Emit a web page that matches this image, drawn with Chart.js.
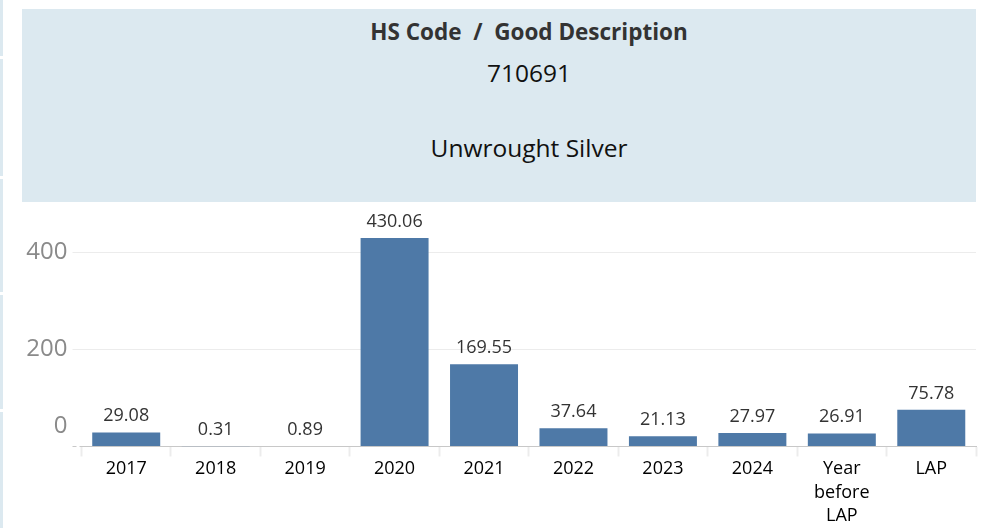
<!DOCTYPE html>
<html>
<head>
<meta charset="utf-8">
<script src="https://cdn.jsdelivr.net/npm/chart.js@4"></script>
<style>
  body { margin: 0; background: #fff; font-family: "Open Sans", sans-serif; }
  #page { position: relative; width: 986px; height: 528px; overflow: hidden; }
  .strip { position: absolute; left: 0; width: 3px; background: #dce9f0; }
  #header { position: absolute; left: 22px; top: 9px; width: 954px; height: 193px; background: #dce9f0; }
  .htext { position: absolute; left: 529px; transform: translate(-50%, -50%); white-space: nowrap; font-size: 24.5px; }
  #chart-box { position: absolute; left: 0; top: 200px; width: 986px; height: 328px; }
</style>
</head>
<body>
<div id="page">
  <div class="strip" style="top:0;height:56px"></div>
  <div class="strip" style="top:59px;height:117px"></div>
  <div class="strip" style="top:179px;height:113px"></div>
  <div class="strip" style="top:295px;height:114px"></div>
  <div class="strip" style="top:412px;height:116px"></div>
  <div id="header"></div>
  <div class="htext" style="top:31px;font-weight:700;color:#333;font-size:22.5px">HS Code &nbsp;/ &nbsp;Good Description</div>
  <div class="htext" style="top:72px;color:#111">710691</div>
  <div class="htext" style="top:147px;color:#111">Unwrought Silver</div>
  <div id="chart-box"><canvas id="barChart"></canvas></div>
</div>
<script>
// Chart data
const categories = ["2017", "2018", "2019", "2020", "2021", "2022", "2023", "2024", ["Year", "before", "LAP"], "LAP"];
const values = [29.08, 0.31, 0.89, 430.06, 169.55, 37.64, 21.13, 27.97, 26.91, 75.78];
const yTicks = [0, 200, 400];

// Value labels above the bars
const barLabels = {
  id: "barLabels",
  afterDatasetsDraw(chart) {
    const ctx = chart.ctx;
    const meta = chart.getDatasetMeta(0);
    ctx.save();
    ctx.font = '18px "Open Sans"';
    ctx.fillStyle = "#333";
    ctx.textAlign = "center";
    ctx.textBaseline = "alphabetic";
    meta.data.forEach((bar, i) => {
      ctx.fillText(values[i].toFixed(2), bar.x, bar.y - 11);
    });
    ctx.restore();
  }
};

new Chart(document.getElementById("barChart"), {
  type: "bar",
  data: {
    labels: categories,
    datasets: [{
      data: values,
      backgroundColor: "#4e79a7",
      borderWidth: 0,
      categoryPercentage: 1,
      barPercentage: 0.76
    }]
  },
  options: {
    responsive: true,
    maintainAspectRatio: false,
    animation: false,
    layout: { padding: { top: 4, right: 10, left: 0, bottom: 0 } },
    plugins: { legend: { display: false }, tooltip: { enabled: false } },
    scales: {
      x: {
        afterFit(scale) {
          scale.height = 81.5;
          scale.paddingLeft = 0;
          scale.paddingRight = 0;
        },
        grid: {
          drawOnChartArea: false,
          tickLength: 10,
          tickColor: "#ececec",
          tickWidth: 2
        },
        border: { display: true, color: "#c8c8c8", dash: [4, 3], width: 1 },
        ticks: {
          padding: 0,
          color: "#000",
          maxRotation: 0,
          font: { family: "Open Sans", size: 18, lineHeight: 1.33 }
        }
      },
      y: {
        min: 0,
        max: 500,
        afterFit(scale) {
          scale.width = 81.5;
          scale.paddingTop = 0;
          scale.paddingBottom = 0;
        },
        afterBuildTicks(scale) { scale.ticks = yTicks.map(v => ({ value: v })); },
        border: { display: false },
        grid: {
          tickLength: 9,
          color: (c) => c.tick && c.tick.value === 0 ? "rgba(0,0,0,0)" : "#ececec",
          tickColor: (c) => c.tick && c.tick.value === 0 ? "#c8c8c8" : "#ececec",
          tickBorderDash: (c) => c.tick && c.tick.value === 0 ? [4, 3] : []
        },
        ticks: {
          padding: 5,
          color: "#8a8a8a",
          font: { family: "Open Sans", size: 24, lineHeight: 1.7 },
          callback: (v) => v === 0 ? ["0", ""] : String(v)
        }
      }
    }
  },
  plugins: [barLabels]
});
</script>
</body>
</html>
